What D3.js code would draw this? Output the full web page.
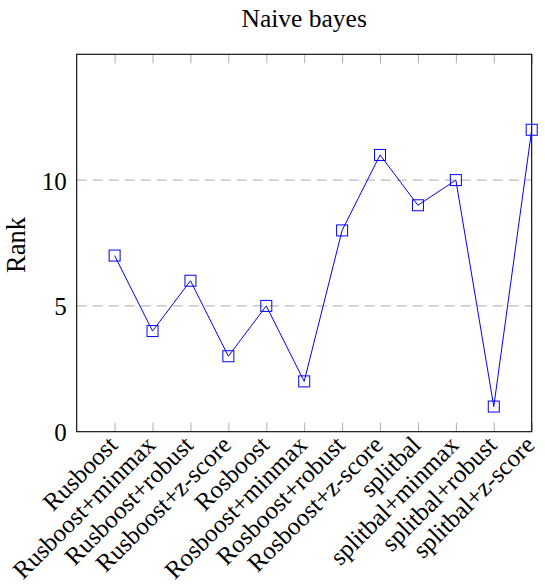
<!DOCTYPE html>
<html><head><meta charset="utf-8">
<script src="https://cdn.jsdelivr.net/npm/d3@7"></script>
<style>
html,body{margin:0;padding:0;background:#fff;}
svg text{font-family:"Liberation Serif","Times New Roman",serif;fill:#000;}
</style></head>
<body><svg id="c" width="545" height="586"></svg>
<script>
const categories = ["Rusboost","Rusboost+minmax","Rusboost+robust","Rusboost+z-score","Rosboost","Rosboost+minmax","Rosboost+robust","Rosboost+z-score","splitbal","splitbal+minmax","splitbal+robust","splitbal+z-score"];
const ranks = [7,4,6,3,5,2,8,11,9,10,1,12];
const yTicks = [0,5,10];
const gridValues = [5,10];
const titleText = "Naive bayes";
const yLabel = "Rank";

const svg = d3.select("#c");
const L = 76.7, R = 531.7, T = 54.3, B = 431.7;
const fs = 25;

const x = d3.scaleLinear().domain([0, categories.length]).range([L, R]);
const y = d3.scaleLinear().domain([0, 15]).range([B, T]);

// grid
svg.append("g").selectAll("line").data(gridValues).join("line")
  .attr("x1", L).attr("x2", R)
  .attr("y1", d => y(d)).attr("y2", d => y(d))
  .attr("stroke", "#aaaaaa").attr("stroke-width", 1)
  .attr("stroke-dasharray", "10,6");

// x ticks bottom & top (inward)
const tickIdx = categories.map((c,i)=>i+1);
const xb = d3.axisBottom(x).tickValues(tickIdx).tickSize(-9).tickFormat("");
const gxb = svg.append("g").attr("transform", `translate(0,${B})`).call(xb);
const xt = d3.axisTop(x).tickValues(tickIdx).tickSize(-9).tickFormat("");
const gxt = svg.append("g").attr("transform", `translate(0,${T})`).call(xt);
[gxb,gxt].forEach(g=>{g.select(".domain").remove(); g.selectAll("line").attr("stroke","#999").attr("stroke-width",0.8);});

// y axis labels
const ya = d3.axisLeft(y).tickValues(yTicks).tickSize(0).tickPadding(10);
const gy = svg.append("g").attr("transform", `translate(${L},0)`).call(ya);
gy.select(".domain").remove();
gy.selectAll("text").attr("font-size", fs).attr("dy","0.36em");

// x category labels
svg.append("g").selectAll("text").data(categories).join("text")
  .attr("transform", (d,i) => `translate(${x(i+1)-1},${B+9.5}) rotate(-45)`)
  .attr("text-anchor","end").attr("dy","0.3em")
  .attr("font-size", fs)
  .text(d => d);

// frame
svg.append("rect").attr("x", L).attr("y", T).attr("width", R-L).attr("height", B-T)
  .attr("fill","none").attr("stroke","#000").attr("stroke-width",1.1);

// line
const line = d3.line().x((d,i)=>x(i+1)).y(d=>y(d));
svg.append("path").datum(ranks).attr("d", line)
  .attr("fill","none").attr("stroke","#0000ff").attr("stroke-width",1);

// markers
const ms = 11;
svg.append("g").selectAll("rect").data(ranks).join("rect")
  .attr("x",(d,i)=>x(i+1)-ms/2).attr("y",d=>y(d)-ms/2)
  .attr("width",ms).attr("height",ms)
  .attr("fill","none").attr("stroke","#0000ff").attr("stroke-width",1);

// title
svg.append("text").attr("x",(L+R)/2).attr("y",27).attr("text-anchor","middle")
  .attr("font-size", 25.5).text(titleText);

// y label
svg.append("text").attr("transform",`translate(25,245) rotate(-90)`)
  .attr("text-anchor","middle").attr("font-size", 26.5).text(yLabel);
</script></body></html>
